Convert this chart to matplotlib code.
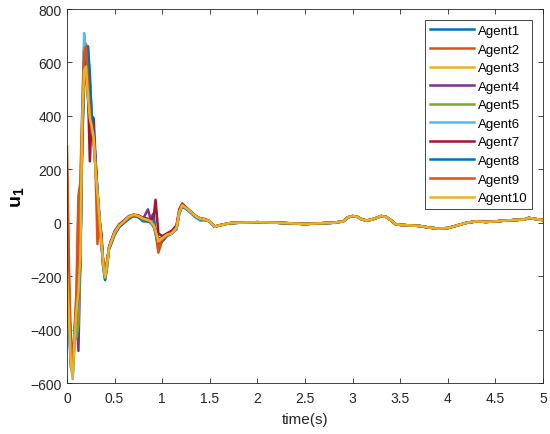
import matplotlib
matplotlib.use("Agg")
import matplotlib.pyplot as plt
import numpy as np

plt.rcParams['font.family'] = ['Liberation Sans', 'DejaVu Sans']
plt.rcParams['mathtext.fontset'] = 'custom'
plt.rcParams['mathtext.bf'] = 'Liberation Sans:bold'
plt.rcParams['mathtext.rm'] = 'Liberation Sans'

# time grids (s)
t_early = [0, 0.02, 0.04, 0.06, 0.08, 0.10, 0.12, 0.14, 0.16, 0.18, 0.20, 0.22,
           0.24, 0.26, 0.28, 0.30, 0.32, 0.34, 0.36, 0.38, 0.40, 0.42, 0.44]
t_mid = [0.46, 0.5, 0.55, 0.6, 0.65, 0.7, 0.75, 0.8, 0.85, 0.88, 0.91, 0.93,
         0.96, 1.0, 1.05, 1.1, 1.15, 1.18, 1.21, 1.25, 1.3, 1.35, 1.4, 1.45]
t_tail = [1.5, 1.55, 1.6, 1.7, 1.8, 2.0, 2.2, 2.4, 2.5, 2.6, 2.8, 2.9, 2.95, 3.0,
          3.05, 3.1, 3.15, 3.2, 3.25, 3.3, 3.35, 3.4, 3.45, 3.5, 3.6, 3.7, 3.8,
          3.9, 4.0, 4.1, 4.2, 4.3, 4.4, 4.5, 4.6, 4.7, 4.8, 4.85, 4.9, 5.0]

# u1 of each agent, early transient
u_early = {
    'Agent1': [-120, -380, -540, -560, -420, -330, -270, -150, 300, 520, 640, 660, 560, 400, 340, 220, 120, 30, -60, -160, -215, -170, -100],
    'Agent2': [285, -150, -480, -500, -400, -250, 100, 150, 420, 660, 670, 560, 430, 330, 300, 200, -80, 10, -60, -140, -195, -150, -95],
    'Agent3': [-130, -320, -510, -570, -430, -330, -260, -130, 360, 560, 580, 480, 390, 360, 320, 200, 110, 20, -64, -150, -200, -160, -95],
    'Agent4': [-120, -300, -450, -520, -420, -330, -480, -150, 320, 540, 560, 470, 380, 350, 320, 210, 100, 10, -40, -150, -195, -150, -95],
    'Agent5': [-140, -320, -480, -540, -440, -430, -380, -140, 340, 550, 570, 480, 400, 370, 330, 210, 110, 20, -64, -150, -200, -155, -95],
    'Agent6': [-130, -350, -530, -585, -450, -330, -280, -100, 400, 710, 620, 560, 380, 350, 320, 220, 110, 20, -70, -160, -205, -160, -100],
    'Agent7': [-100, -280, -480, -540, -400, -330, -200, -80, 350, 600, 640, 500, 230, 400, 390, 240, 100, 10, -40, -150, -195, -150, -95],
    'Agent8': [-110, -360, -520, -550, -420, -330, -280, -150, 330, 600, 650, 660, 520, 400, 340, 230, 120, 20, -70, -165, -212, -165, -100],
    'Agent9': [200, -200, -460, -520, -400, -280, 50, 100, 380, 640, 660, 520, 420, 340, 310, 210, 60, 0, -70, -150, -198, -150, -95],
    'Agent10': [-190, -350, -520, -580, -430, -330, -260, -120, 380, 570, 585, 480, 390, 360, 320, 200, 110, 20, -64, -150, -205, -160, -95],
}

# u1 of each agent, 0.46 s .. 1.45 s
u_mid = {
    'Agent1': [-80, -42, -15, 0, 15, 25, 20, 5, 5, 20, 35, -40, -90, -70, -50, -40, -25, 35, 62, 52, 38, 22, 10, 10],
    'Agent2': [-75, -38, -10, 5, 20, 28, 25, 15, 10, 5, -10, -30, -112, -65, -48, -38, -18, 45, 66, 55, 40, 25, 15, 12],
    'Agent3': [-75, -38, -10, 5, 22, 30, 25, 15, 10, 5, -10, -30, -70, -58, -45, -40, -20, 40, 65, 55, 40, 25, 15, 12],
    'Agent4': [-70, -32, -5, 8, 25, 30, 22, 15, 50, 10, -5, -25, -60, -55, -42, -38, -15, 42, 64, 54, 40, 24, 15, 12],
    'Agent5': [-75, -36, -8, 6, 22, 30, 25, 15, 12, 5, -8, -30, -65, -56, -44, -38, -18, 42, 65, 55, 40, 25, 15, 12],
    'Agent6': [-85, -45, -15, 0, 18, 26, 22, 10, 8, 0, -15, -40, -80, -65, -50, -42, -22, 38, 63, 52, 36, 20, 8, 10],
    'Agent7': [-72, -35, -8, 8, 22, 30, 28, 18, 15, 10, 20, 86, -40, -50, -40, -30, -10, 50, 72, 58, 42, 26, 16, 14],
    'Agent8': [-82, -45, -15, 0, 15, 25, 22, 10, 5, 0, -15, -35, -85, -68, -48, -40, -22, 36, 62, 52, 38, 22, 12, 10],
    'Agent9': [-75, -38, -10, 5, 20, 28, 25, 15, 10, 5, -10, -30, -100, -62, -45, -38, -18, 42, 68, 56, 40, 25, 15, 12],
    'Agent10': [-75, -38, -10, 5, 22, 30, 25, 15, 10, 5, -10, -30, -70, -58, -45, -40, -20, 40, 65, 55, 40, 25, 15, 12],
}

# agents have reached consensus here
u_tail = [5, -15, -10, -2, 0, 2, 0, -3, -5, -3, 0, 5, 20, 25, 22, 12, 8, 12, 18, 25,
          22, 10, -5, -8, -10, -12, -18, -22, -20, -10, 0, 5, 3, 5, 8, 10, 12, 18, 15, 10]

colors = ['#0072BD', '#D95319', '#EDB120', '#7E2F8E', '#77AC30',
          '#4DBEEE', '#A2142F', '#0072BD', '#D95319', '#EDB120']

fig = plt.figure(figsize=(5.5, 4.35), dpi=100)
ax = fig.add_axes([0.1218, 0.1172, 0.8655, 0.8598])

t_all = t_early + t_mid + t_tail
for i, name in enumerate(u_early):
    u = u_early[name] + u_mid[name] + u_tail
    ax.plot(t_all, u, color=colors[i], lw=1.8, label=name)

ax.set_xlim(0, 5)
ax.set_ylim(-600, 800)
ax.set_xticks(np.arange(0, 5.01, 0.5))
ax.set_xticklabels(['0', '0.5', '1', '1.5', '2', '2.5', '3', '3.5', '4', '4.5', '5'])
ax.set_yticks(np.arange(-600, 801, 200))
ax.tick_params(direction='in', top=True, right=True, labelsize=10, length=3.5,
               width=0.6, colors='#262626')
ax.tick_params(axis='x', pad=6)
ax.tick_params(axis='y', pad=4)
for s in ax.spines.values():
    s.set_linewidth(0.6)
    s.set_color('#262626')

ax.set_xlabel('time(s)', fontsize=11, color='#262626', labelpad=5)
ax.set_ylabel(r'$\mathbf{u_1}$', fontsize=14, labelpad=3)

leg = ax.legend(loc='upper right', fontsize=9.5, handlelength=3.3, labelspacing=0.48,
                borderaxespad=0.85, fancybox=False, edgecolor='#262626',
                framealpha=1, borderpad=0.35, handletextpad=0.3)
leg.get_frame().set_linewidth(0.6)

fig.savefig('out.png', dpi=100)
